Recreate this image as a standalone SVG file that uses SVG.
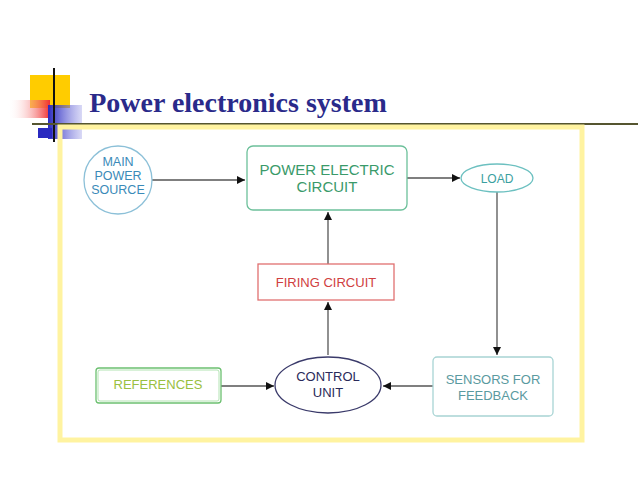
<svg xmlns="http://www.w3.org/2000/svg" width="638" height="478" viewBox="0 0 638 478">
<defs>
<marker id="ah" viewBox="0 0 10 10" refX="10" refY="5" markerWidth="8" markerHeight="8" orient="auto" markerUnits="userSpaceOnUse"><path d="M0,0 L10,5 L0,10 z" fill="#111"/></marker>
<linearGradient id="rg" x1="0" x2="1"><stop offset="0" stop-color="#fff" stop-opacity="0"/><stop offset="1" stop-color="#f03030"/></linearGradient>
<linearGradient id="bg" x1="0" x2="1"><stop offset="0" stop-color="#2a2ac0"/><stop offset="1" stop-color="#8080e0" stop-opacity="0.3"/></linearGradient>
</defs>
<style>
text{font-family:"Liberation Sans",Arial,sans-serif;text-anchor:middle}
.c{stroke:#555;stroke-width:1.3;fill:none;marker-end:url(#ah)}
</style>
<rect width="638" height="478" fill="#fff"/>
<g id="decor">
<rect x="30" y="75" width="40" height="33" fill="#ffcc00"/>
<rect x="8" y="100" width="42" height="18" fill="url(#rg)"/>
<rect x="48" y="105" width="34" height="34" fill="url(#bg)"/>
<rect x="38" y="128" width="14" height="10" fill="#2a2ac0"/>
<line x1="54" y1="68" x2="54" y2="142" stroke="#111" stroke-width="2"/>
<line x1="32" y1="124" x2="638" y2="124" stroke="#555530" stroke-width="2"/>
<rect x="60" y="127" width="522" height="313" fill="none" stroke="#fff3a0" stroke-width="5"/>
</g>
<text x="238" y="112" style="font-family:'Liberation Serif',serif;font-weight:bold;font-size:28px;fill:#2a2a8a">Power electronics system</text>
<g id="connectors">
<line class="c" x1="152" y1="180" x2="245" y2="180"/>
<line class="c" x1="407" y1="178" x2="460" y2="178"/>
<line class="c" x1="497" y1="192" x2="497" y2="355"/>
<line class="c" x1="433" y1="386" x2="383" y2="386"/>
<line class="c" x1="221" y1="386" x2="274" y2="386"/>
<line class="c" x1="328" y1="355" x2="328" y2="302"/>
<line class="c" x1="328" y1="264" x2="328" y2="212"/>
</g>
<g id="main"><circle cx="118" cy="180" r="34" fill="#fff" stroke="#8cc0d8" stroke-width="1.3"/>
<text y="166" font-size="12.5" fill="#3a8ab8"><tspan x="118">MAIN</tspan><tspan x="118" dy="14">POWER</tspan><tspan x="118" dy="14">SOURCE</tspan></text></g>
<g id="pec"><rect x="247" y="146" width="160" height="64" rx="6" fill="#fff" stroke="#6cc09a" stroke-width="1.3"/>
<text y="175" font-size="15" fill="#3a9a6a"><tspan x="327">POWER ELECTRIC</tspan><tspan x="327" dy="17">CIRCUIT</tspan></text></g>
<g id="load"><ellipse cx="497" cy="178" rx="36" ry="14" fill="#fff" stroke="#6cc0c0" stroke-width="1.3"/>
<text x="497" y="183" font-size="12" fill="#3aa0a0">LOAD</text></g>
<g id="firing"><rect x="258" y="264" width="136" height="36" fill="#fff" stroke="#e07070" stroke-width="1.3"/>
<text x="326" y="287" font-size="13" fill="#d04040">FIRING CIRCUIT</text></g>
<g id="control"><ellipse cx="328" cy="385" rx="53" ry="28" fill="#fff" stroke="#3a3a6a" stroke-width="1.3"/>
<text y="381" font-size="13" fill="#2a2a5a"><tspan x="328">CONTROL</tspan><tspan x="328" dy="16">UNIT</tspan></text></g>
<g id="refs"><rect x="96" y="368" width="125" height="35" rx="3" fill="#fff" stroke="#6cc070" stroke-width="1.3"/>
<rect x="98" y="370" width="121" height="31" rx="2" fill="none" stroke="#a0dca0" stroke-width="0.8"/>
<text x="158" y="389" font-size="13" fill="#9ac040">REFERENCES</text></g>
<g id="sensors"><rect x="433" y="357" width="120" height="59" rx="4" fill="#fff" stroke="#a8d4d4" stroke-width="1.3"/>
<text y="384" font-size="13" fill="#5a9aa0"><tspan x="493">SENSORS FOR</tspan><tspan x="493" dy="16">FEEDBACK</tspan></text></g>
</svg>
